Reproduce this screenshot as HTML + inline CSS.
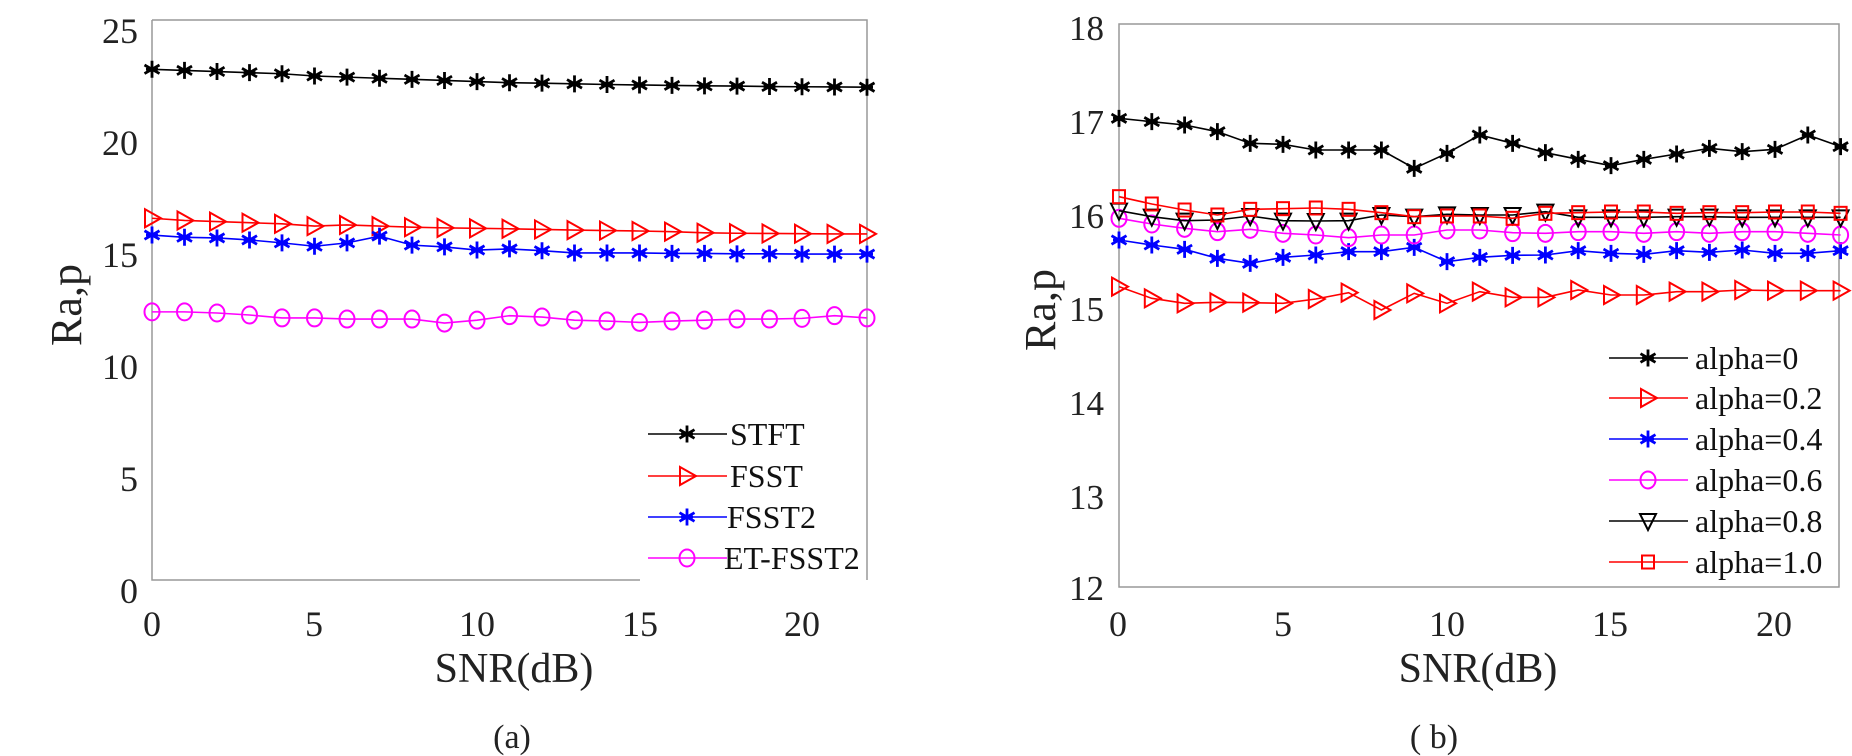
<!DOCTYPE html>
<html><head><meta charset="utf-8"><style>
html,body{margin:0;padding:0;background:#fff;}
svg{display:block;}
</style></head><body>
<svg id="s" width="1852" height="756" viewBox="0 0 1852 756" xmlns="http://www.w3.org/2000/svg" font-family="'Liberation Serif', serif">
<rect width="1852" height="756" fill="#fff"/>
<g fill="#222" font-family="'Liberation Serif', serif">
<!-- Left axes -->
<path d="M152,20 H867 V580 M152,20 V580 H640" fill="none" stroke="#999" stroke-width="1.5"/>
<g font-size="36" text-anchor="end">
<text x="138" y="43">25</text>
<text x="138" y="155">20</text>
<text x="138" y="267">15</text>
<text x="138" y="379">10</text>
<text x="138" y="491">5</text>
<text x="138" y="603">0</text>
</g>
<g font-size="36" text-anchor="middle">
<text x="152" y="636">0</text>
<text x="314" y="636">5</text>
<text x="477" y="636">10</text>
<text x="640" y="636">15</text>
<text x="802" y="636">20</text>
</g>
<text x="514" y="682" font-size="42" text-anchor="middle">SNR(dB)</text>
<text transform="translate(81,305) rotate(-90)" font-size="44" text-anchor="middle">Ra,p</text>
<text x="512" y="748" font-size="34" text-anchor="middle">(a)</text>
<!-- Right axes -->
<path d="M1119,24 H1839 V587 H1119 Z" fill="none" stroke="#999" stroke-width="1.5"/>
<g font-size="35" text-anchor="end">
<text x="1104" y="40">18</text>
<text x="1104" y="134">17</text>
<text x="1104" y="228">16</text>
<text x="1104" y="321">15</text>
<text x="1104" y="415">14</text>
<text x="1104" y="509">13</text>
<text x="1104" y="600">12</text>
</g>
<g font-size="36" text-anchor="middle">
<text x="1118" y="636">0</text>
<text x="1283" y="636">5</text>
<text x="1447" y="636">10</text>
<text x="1610" y="636">15</text>
<text x="1774" y="636">20</text>
</g>
<text x="1478" y="682" font-size="42" text-anchor="middle">SNR(dB)</text>
<text transform="translate(1055,310) rotate(-90)" font-size="44" text-anchor="middle">Ra,p</text>
<text x="1434" y="748" font-size="34" text-anchor="middle">( b)</text>
</g>
<g id="series"></g>
<g fill="#111" font-family="'Liberation Serif', serif" font-size="32">
<text x="730" y="445">STFT</text>
<text x="730" y="487">FSST</text>
<text x="727" y="528">FSST2</text>
<text x="724" y="569">ET-FSST2</text>
<text x="1695" y="369">alpha=0</text>
<text x="1695" y="409">alpha=0.2</text>
<text x="1695" y="450">alpha=0.4</text>
<text x="1695" y="491">alpha=0.6</text>
<text x="1695" y="532">alpha=0.8</text>
<text x="1695" y="573">alpha=1.0</text>
</g>
</svg>
<script>
var NS="http://www.w3.org/2000/svg",G=document.getElementById('series');
function el(t,a){var e=document.createElementNS(NS,t);for(var k in a)e.setAttribute(k,a[k]);G.appendChild(e);return e;}
function marker(type,x,y,c){
 var sw=2;
 if(type=='star'){var r=8.5;
  el('path',{d:'M'+x+','+(y-r)+'V'+(y+r)+'M'+(x-7.5)+','+(y-4.3)+'L'+(x+7.5)+','+(y+4.3)+'M'+(x-7.5)+','+(y+4.3)+'L'+(x+7.5)+','+(y-4.3)+'M'+(x-6)+','+y+'H'+(x+6),stroke:c,'stroke-width':2.8,fill:'none'});}
 else if(type=='tri'){el('path',{d:'M'+(x-7)+','+(y-9)+'L'+(x+9)+','+y+'L'+(x-7)+','+(y+9)+'Z',stroke:c,'stroke-width':sw,fill:'none'});}
 else if(type=='dtri'){el('path',{d:'M'+(x-8)+','+(y-7)+'H'+(x+8)+'L'+x+','+(y+9)+'Z',stroke:c,'stroke-width':sw,fill:'none'});}
 else if(type=='circ'){el('ellipse',{cx:x,cy:y,rx:7.5,ry:8.5,stroke:c,'stroke-width':sw,fill:'none'});}
 else if(type=='sq'){el('rect',{x:x-6,y:y-6.5,width:12,height:13,stroke:c,'stroke-width':sw,fill:'none'});}
}
function series(xs,ys,c,type){
 var d='';for(var i=0;i<xs.length;i++)d+=(i?'L':'M')+xs[i]+','+ys[i];
 el('path',{d:d,stroke:c,'stroke-width':1.6,fill:'none'});
 for(var i=0;i<xs.length;i++)marker(type,xs[i],ys[i],c);
}
var LX=[];for(var i=0;i<23;i++)LX.push(152+32.5*i);
function ly(v){return 580-22.4*v;}
var stft=[22.8,22.75,22.7,22.65,22.6,22.5,22.45,22.4,22.35,22.3,22.25,22.2,22.18,22.15,22.12,22.1,22.08,22.06,22.05,22.03,22.02,22.01,22.0];
var fsst=[16.15,16.05,16.0,15.95,15.9,15.8,15.85,15.8,15.75,15.72,15.7,15.68,15.65,15.62,15.6,15.58,15.55,15.5,15.48,15.47,15.46,15.45,15.45];
var fsst2=[15.4,15.3,15.27,15.18,15.05,14.9,15.05,15.35,14.95,14.87,14.73,14.78,14.7,14.6,14.6,14.6,14.58,14.58,14.56,14.56,14.55,14.55,14.55];
var et=[11.97,11.97,11.92,11.83,11.7,11.7,11.65,11.65,11.65,11.47,11.6,11.8,11.74,11.6,11.56,11.5,11.56,11.6,11.65,11.65,11.68,11.8,11.7];
function m(a,f){return a.map(f);}
series(LX,m(stft,ly),'#000','star');
series(LX,m(fsst,ly),'#f00','tri');
series(LX,m(fsst2,ly),'#00f','star');
series(LX,m(et,ly),'#f0f','circ');
el('rect',{x:641,y:415,width:225,height:164,fill:'#fff'});
var lg=[[434,'#000','star'],[476,'#f00','tri'],[517,'#00f','star'],[558,'#f0f','circ']];
lg.forEach(function(g){el('path',{d:'M648,'+g[0]+'H727',stroke:g[1],'stroke-width':1.6});marker(g[2],687,g[0],g[1]);});
var RX=[];for(var i=0;i<23;i++)RX.push(1119+32.8*i);
function ry(z){return z/3;}
var a0=[355,365,375,395,430,433,450,450,450,505,460,405,430,458,478,497,478,462,445,455,448,405,440];
var a2=[860,895,910,907,908,910,897,878,930,880,910,875,892,892,870,885,885,875,875,870,872,872,872];
var a4=[720,735,748,775,790,772,765,755,755,742,785,772,766,765,752,760,763,752,757,750,760,760,752];
var a6=[655,672,685,695,688,700,705,713,705,705,690,690,698,700,695,695,700,695,700,695,695,700,705];
var a8=[632,650,662,660,648,662,663,662,645,650,643,645,645,635,652,652,652,650,650,652,652,652,652];
var a10=[590,612,630,645,628,626,624,628,638,650,648,648,655,640,638,636,636,640,638,638,636,636,640];
series(RX,m(a0,ry),'#000','star');
series(RX,m(a2,ry),'#f00','tri');
series(RX,m(a4,ry),'#00f','star');
series(RX,m(a6,ry),'#f0f','circ');
series(RX,m(a8,ry),'#000','dtri');
series(RX,m(a10,ry),'#f00','sq');
var rg=[[358,'#000','star'],[398,'#f00','tri'],[439,'#00f','star'],[480,'#f0f','circ'],[521,'#000','dtri'],[562,'#f00','sq']];
rg.forEach(function(g){el('path',{d:'M1609,'+g[0]+'H1688',stroke:g[1],'stroke-width':1.6});marker(g[2],1648,g[0],g[1]);});
</script>
</body></html>
